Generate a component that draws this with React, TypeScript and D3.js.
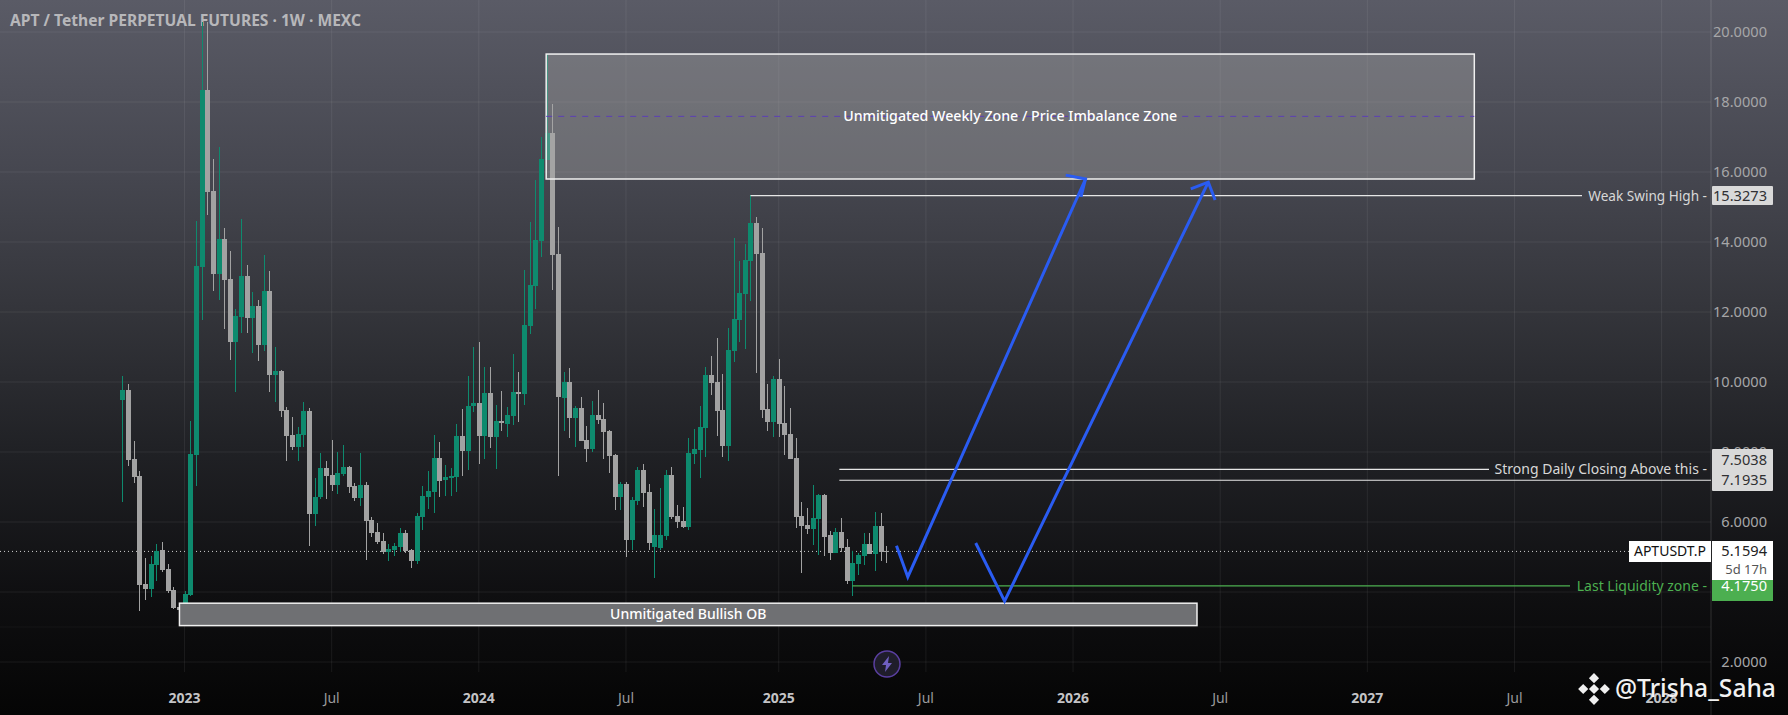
import React from "react";
import * as d3 from "d3";

const W = 1788, H = 715;

// Weekly OHLC, starting at the first listed bar
const opens = [
  9.49,9.77,7.8,7.31,4.23,4.09,4.77,5.2,4.66,4.06,
  3.57,3.49,3.91,7.91,13.29,18.34,15.46,13.09,14.09,12.94,
  11.15,11.86,13.03,11.83,12.17,11.06,12.6,10.2,10.31,9.2,
  8.49,8.14,8.49,9.17,6.23,6.71,7.54,7.34,7.06,7.37,
  7.57,7.03,6.69,7.06,6.06,5.71,5.46,5.14,5.2,5.29,
  5.69,5.2,4.89,6.14,6.71,6.86,7.83,7.2,7.26,7.29,
  8.46,8.03,9.31,9.4,8.46,9.69,8.43,8.89,8.8,9.03,
  9.71,9.66,11.6,12.74,14.03,16.34,17.11,13.66,9.54,10,
  8.97,9.26,8.34,8.09,9.06,8.94,8.6,7.91,6.71,7.09,
  5.49,6.6,7.49,6.86,5.29,5.26,5.6,7.34,6.17,6.03,
  5.86,7.94,8.06,8.69,10.2,10,9.2,8.17,10.89,11.77,
  12.51,13.46,14.54,13.69,9.23,8.86,10.09,8.83,8.51,7.83,
  6.17,5.91,5.8,6.09,6.77,5.63,5.11,5.71,5.29,4.31,
  4.8,5.03,5.37,5.09,5.89,5.17,
];
const closes = [
  9.77,7.77,7.29,4.2,4.09,4.8,5.17,4.63,4.03,3.54,
  3.49,3.94,7.94,13.31,18.34,15.43,13.09,14.09,12.91,11.15,
  11.89,13.03,11.83,12.17,11.06,12.6,10.2,10.31,9.17,8.46,
  8.14,8.51,9.17,6.23,6.71,7.54,7.31,7.06,7.4,7.57,
  7.0,6.69,7.06,6.03,5.69,5.43,5.14,5.23,5.31,5.69,
  5.17,4.89,6.17,6.74,6.89,7.83,7.17,7.29,7.31,8.46,
  8.03,9.31,9.4,8.46,9.69,8.43,8.89,8.83,9.06,9.71,
  9.66,11.63,12.77,14.06,16.37,17.11,13.63,9.57,10,8.97,
  9.26,8.31,8.09,9.06,8.91,8.57,7.89,6.71,7.09,5.49,
  6.63,7.49,6.83,5.4,5.63,5.63,7.34,6.14,6,5.86,
  7.97,8.09,8.71,10.2,9.97,9.17,8.17,10.91,11.8,12.54,
  13.49,14.54,13.66,9.2,8.86,10.09,8.8,8.49,7.8,6.14,
  5.89,5.8,6.11,6.77,5.57,5.11,5.71,5.26,4.31,4.83,
  5.06,5.37,5.09,5.89,5.14,5.16,
];
const highs = [
  10.17,9.94,8.31,7.46,4.97,5.03,5.37,5.43,4.8,4.14,
  3.6,4.03,8.89,14.6,20.29,20.29,16.37,16.71,14.4,13.74,
  12.09,14.66,13.34,12.57,12.34,13.63,13.17,11,10.34,9.29,
  9,8.71,9.43,9.26,7.26,7.97,7.74,8.34,8,8.2,
  7.6,7.11,7.97,7.14,6.14,5.97,5.69,5.37,5.4,5.83,
  5.77,5.23,6.26,7.03,7.46,8.49,8.29,7.63,7.54,8.8,
  9.23,10.17,11,11.14,10.43,10.43,9.34,9.74,9.29,10.8,
  10.29,13.2,14.57,15.77,17,19.37,17.94,14.43,10.29,10.4,
  9.31,9.57,8.74,9.46,9.77,9.4,8.63,7.94,7.14,7.14,
  6.71,7.57,7.66,7.09,6.37,6.97,7.49,7.57,6.49,6.43,
  8.4,8.66,9.31,10.43,10.74,11.26,10.23,11.54,14.11,13.46,
  13.94,15.33,14.71,14.4,9.94,10.17,10.66,9.89,9.26,8.4,
  6.57,6.4,7.06,6.8,6.8,5.74,5.83,6.11,5.51,5.17,
  5.11,5.69,5.69,6.29,6.26,5.31,
];
const lows = [
  6.57,7.61,7.12,3.46,3.77,3.87,4.31,4.57,3.97,3.51,
  3.47,3.46,3.89,7.04,11.77,14.77,12.6,12.34,11.51,10.63,
  9.72,11.4,11.4,10.83,10.6,10.89,9.71,9.43,9,7.74,
  8.06,7.74,8.14,5.31,5.89,6.66,6.66,6.89,6.8,7.31,
  6.83,6.6,6.46,4.91,5.57,5.37,5.09,4.89,5.03,5.14,
  5.11,4.69,4.8,5.77,6.37,6.26,6.71,6.74,6.74,6.86,
  7.31,7.49,9.14,7.66,7.8,8.11,7.51,8.6,8.43,8.77,
  8.86,9.34,11.37,12.09,13.57,16.34,12.63,7.31,8.6,8.4,
  8.14,8.31,7.71,8,8.8,7.8,7.4,6.34,6.34,5,
  5.2,6.5,6.43,5.2,4.4,5.2,5.49,6.09,5.83,5.83,
  5.77,7.66,7.26,7.86,9.63,8.46,7.86,7.74,10.57,11.14,
  10.94,12.31,10.26,8.97,8.6,8.43,8.43,7.91,7.8,5.83,
  4.54,5.66,5.34,5.06,5.03,4.91,5.11,5.14,4.23,3.89,
  4.49,4.77,5.09,4.6,4.89,4.83,
];

const priceTicks = [20, 18, 16, 14, 12, 10, 8, 6, 2];
const gridPrices = [20, 18, 16, 14, 12, 10, 8, 6, 4, 3, 2];
const timeLabels = ["2023", "Jul", "2024", "Jul", "2025", "Jul", "2026", "Jul", "2027", "Jul", "2028"];
const timeBars = [11, 37, 63, 89, 116, 142, 168, 194, 220, 246, 272];
const lastPrice = 5.1594, swingHigh = 15.3273, strongA = 7.5038, strongB = 7.1935, liquidity = 4.175;
const weeklyZone = { b0: 74.9, b1: 238.9, top: 19.37, bottom: 15.8, mid: 17.59 };
const bullishOB = { b0: 10.1, b1: 189.9, top: 3.68, bottom: 3.04 };
const arrowA = [[136.8, 5.32], [138.8, 4.43], [170.2, 15.8]] as [number, number][];
const headA = [[166.7, 15.91], [170.2, 15.8], [169.4, 15.29]] as [number, number][];
const arrowB = [[150.8, 5.4], [155.9, 3.74], [191.9, 15.71]] as [number, number][];
const headB = [[188.8, 15.52], [191.9, 15.71], [193.1, 15.2]] as [number, number][];

const x = d3.scaleLinear().domain([0, 135]).range([122.3, 886.3]);
const y = d3.scaleLinear().domain([2, 20]).range([662, 32]);
const line = d3.line<[number, number]>().x((d) => x(d[0])).y((d) => y(d[1]));
const stops: [number, string][] = [
  [0, "#5a5b66"], [0.25, "#45464f"], [0.42, "#35363c"], [0.63, "#202125"], [0.83, "#0f0f11"], [1, "#050505"],
];
const UP = "#0e8a6e", DOWN = "#a2a2a2";
const FONT = "'Noto Sans', sans-serif";
const AX = 1711;

export default function App() {
  const bw = 5;
  return (
    <svg width={W} height={H} viewBox={`0 0 ${W} ${H}`}
      style={{ position: "absolute", left: 0, top: 0, display: "block" }} fontFamily={FONT}>
      <defs>
        <linearGradient id="bg" x1="0" y1="0" x2="0" y2="1">
          {stops.map(([o, c]) => <stop key={o} offset={o} stopColor={c} />)}
        </linearGradient>
      </defs>
      <rect width={W} height={H} fill="url(#bg)" />
      {gridPrices.map((p) => (
        <line key={p} x1={0} x2={AX} y1={y(p)} y2={y(p)} stroke="#fff" strokeOpacity={p === 3 ? 0.04 : 0.07} />
      ))}
      {timeBars.map((b) => (
        <line key={b} x1={x(b)} x2={x(b)} y1={0} y2={672} stroke="#fff" strokeOpacity={0.07} />
      ))}
      <line x1={AX} x2={AX} y1={0} y2={H} stroke="#fff" strokeOpacity={0.14} />

      <text x={10} y={26} fontSize={15.6} fontWeight={700} fill="#b7b7ba">APT / Tether PERPETUAL FUTURES · 1W · MEXC</text>

      <line x1={0} x2={1629} y1={y(lastPrice)} y2={y(lastPrice)} stroke="#d0d0d0" strokeDasharray="1 3" />

      {opens.map((o, i) => {
        const c = closes[i];
        const col = c >= o ? UP : DOWN;
        const cx = Math.round(x(i));
        return (
          <g key={i} shapeRendering="crispEdges" fill={col}>
            <rect x={cx} width={1} y={y(highs[i])} height={y(lows[i]) - y(highs[i])} />
            <rect x={cx - (bw - 1) / 2} width={bw} y={y(Math.max(o, c))}
              height={Math.max(1, Math.abs(y(o) - y(c)))} />
          </g>
        );
      })}

      <rect x={x(weeklyZone.b0)} width={x(weeklyZone.b1) - x(weeklyZone.b0)} y={y(weeklyZone.top)}
        height={y(weeklyZone.bottom) - y(weeklyZone.top)} fill="#a8a8a8" fillOpacity={0.38} stroke="#f0f0f0" strokeWidth={1.5} />
      <line x1={x(weeklyZone.b0)} x2={x(weeklyZone.b1)} y1={y(weeklyZone.mid)} y2={y(weeklyZone.mid)}
        stroke="#5c3fb5" strokeDasharray="6 6" />
      <text x={(x(weeklyZone.b0) + x(weeklyZone.b1)) / 2} y={y(weeklyZone.mid) + 5} textAnchor="middle"
        fontSize={14.2} fontWeight={500} fill="#fff">Unmitigated Weekly Zone / Price Imbalance Zone</text>

      <rect x={x(bullishOB.b0)} width={x(bullishOB.b1) - x(bullishOB.b0)} y={y(bullishOB.top)}
        height={y(bullishOB.bottom) - y(bullishOB.top)} fill="#6f7073" stroke="#f0f0f0" strokeWidth={1.5} />
      <text x={(x(bullishOB.b0) + x(bullishOB.b1)) / 2} y={y((bullishOB.top + bullishOB.bottom) / 2) + 5} textAnchor="middle"
        fontSize={14} fontWeight={500} fill="#fff">Unmitigated Bullish OB</text>

      <line x1={x(111)} x2={1582} y1={y(swingHigh)} y2={y(swingHigh)} stroke="#e6e6e6" strokeWidth={1.2} />
      <text x={1707} y={y(swingHigh) + 5} textAnchor="end" fontSize={13.6} fill="#d8d8d8">Weak Swing High -</text>
      <line x1={x(126.7)} x2={1489} y1={y(strongA)} y2={y(strongA)} stroke="#e6e6e6" strokeWidth={1.2} />
      <text x={1707} y={y(strongA) + 5} textAnchor="end" fontSize={14} fill="#d8d8d8">Strong Daily Closing Above this -</text>
      <line x1={x(126.7)} x2={AX} y1={y(strongB)} y2={y(strongB)} stroke="#e6e6e6" strokeWidth={1.2} />
      <line x1={x(129)} x2={1570} y1={y(liquidity)} y2={y(liquidity)} stroke="#4caf50" strokeWidth={1.2} />
      <text x={1707} y={y(liquidity) + 5} textAnchor="end" fontSize={14} fill="#4caf50">Last Liquidity zone -</text>

      {[arrowA, headA, arrowB, headB].map((pts, i) => (
        <path key={i} d={line(pts) as string} fill="none" stroke="#2a5cf2" strokeWidth={3} strokeLinejoin="miter" />
      ))}

      {priceTicks.map((p) => (
        <text key={p} x={1767} y={y(p) + 5} textAnchor="end" fontSize={14.6} fill="#a6a6a8">{p.toFixed(4)}</text>
      ))}
      {timeLabels.map((t, i) => {
        const year = t !== "Jul";
        return (
          <text key={i} x={x(timeBars[i])} y={703} textAnchor="middle" fontSize={14}
            fontWeight={year ? 700 : 400} fill={year ? "#c4c4c6" : "#9a9a9c"}>{t}</text>
        );
      })}

      <rect x={1712} width={61} y={186} height={19} rx={1} fill="#d9d9d9" />
      <text x={1767} y={y(swingHigh) + 5} textAnchor="end" fontSize={14.6} fill="#303033">{swingHigh.toFixed(4)}</text>
      <rect x={1712} width={61} y={449} height={42} rx={1} fill="#d9d9d9" />
      <text x={1767} y={y(strongA) - 4.5} textAnchor="end" fontSize={14.6} fill="#303033">{strongA.toFixed(4)}</text>
      <text x={1767} y={y(strongB) + 5} textAnchor="end" fontSize={14.6} fill="#303033">{strongB.toFixed(4)}</text>
      <rect x={1629} width={82} y={541} height={21} fill="#fff" />
      <text x={1670} y={556} textAnchor="middle" fontSize={14} fill="#111">APTUSDT.P</text>
      <rect x={1712} width={61} y={541} height={40} fill="#fff" />
      <text x={1767} y={y(lastPrice) + 5} textAnchor="end" fontSize={14.6} fill="#222">{lastPrice.toFixed(4)}</text>
      <text x={1767} y={573.5} textAnchor="end" fontSize={13} fill="#555">5d 17h</text>
      <rect x={1712} width={61} y={580} height={21} fill="#4caf50" />
      <text x={1767} y={y(liquidity) + 5.5} textAnchor="end" fontSize={14.6} fill="#fff">{liquidity.toFixed(4)}</text>

      <g transform="translate(887,664)">
        <circle r={13} fill="#1f1d2b" stroke="#5a3fa0" strokeWidth={1.5} />
        <path d="M2,-8 L-5,1 L-1,1 L-2,8 L5,-1 L1,-1 Z" fill="#6f5fc0" />
      </g>
      <g transform="translate(1594,689) scale(1.2)" fill="#f0f0f0">
        <rect x={-3} y={-3} width={6} height={6} transform="rotate(45)" />
        <rect x={-3} y={-12} width={6} height={6} transform="rotate(45 0 -9)" />
        <rect x={-3} y={6} width={6} height={6} transform="rotate(45 0 9)" />
        <rect x={-12} y={-3} width={6} height={6} transform="rotate(45 -9 0)" />
        <rect x={6} y={-3} width={6} height={6} transform="rotate(45 9 0)" />
      </g>
      <text x={1615} y={697} fontSize={24.6} fontWeight={500} fill="#f2f2f2">@Trisha_Saha</text>
    </svg>
  );
}
